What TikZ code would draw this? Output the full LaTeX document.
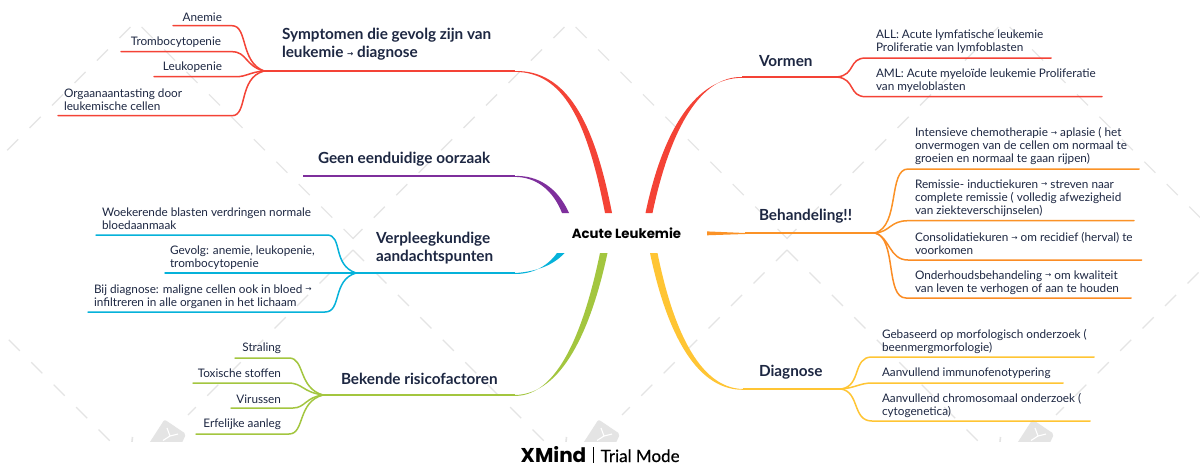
\documentclass[tikz,border=0pt]{standalone}
\usepackage{fontspec}
\setmainfont{Lato}
\newfontfamily\popp{Poppins}
\newfontfamily\djv{DejaVu Sans}
\newfontfamily\tmf[FakeBold=0.35]{Lato}
\definecolor{ink}{HTML}{1D2742}
\definecolor{wm}{HTML}{E4E4E4}
\definecolor{cred}{HTML}{F44336}
\definecolor{cpur}{HTML}{7E2F9C}
\definecolor{ccya}{HTML}{05B2DA}
\definecolor{cgre}{HTML}{A3C63F}
\definecolor{cyel}{HTML}{FFC534}
\definecolor{cora}{HTML}{FB9226}
\newcommand{\arr}{\raisebox{1.2pt}{\djv\fontsize{7.5}{7.5}\selectfont →}}
\tikzset{
 x=1pt,y=-1pt,
 kid/.style={line width=1.5pt,line cap=round},
 trunk/.style={line width=1.9pt},
 leaf/.style={inner sep=0pt,outer sep=0pt,text=ink,align=left,yshift=-0.9pt,font=\fontsize{11.75}{13.1}\selectfont},
 topic/.style={inner sep=0pt,outer sep=0pt,text=ink,align=left,yshift=-0.6pt,font=\fontsize{15.3}{18}\selectfont\bfseries},
 wmline/.style={draw=wm,line width=1.2pt,dash pattern=on 15.6pt off 16.15pt},
}
\newcommand{\armset}[2]{%
 \draw[wmline] (#1+5.6,#2+5) -- (#1+217.3,#2+216.7);
 \draw[wmline] (#1-5.6,#2+5) -- (#1-217.3,#2+216.7);}
\newcommand{\armlow}[1]{%
 \draw[wmline] (#1,250) -- (#1+192,442);
 \draw[wmline] (#1,250) -- (#1-165,415);}
\newcommand{\icon}[1]{%
 \begin{scope}[shift={(#1,0)}]
 \fill[wm,rounded corners=2pt] (-2.5,419.5) -- (19,434) -- (14,445) -- (-19,445) -- cycle;
 \draw[white,line width=1.1pt] (0,428) -- (3,436) -- (11,434);
 \draw[white,line width=1.1pt] (3,436) -- (-4,440.5);
 \draw[wm,line width=1.6pt] (-34.5,437) -- (-35,442);
 \end{scope}}
\begin{document}
\begin{tikzpicture}
\useasboundingbox (0,0) rectangle (1200,474);
\fill[white] (0,0) rectangle (1200,474);
% watermark
\begin{scope}
\clip (0,0) rectangle (1200,441);
\armset{136}{22}\armset{570}{22}\armset{1004}{22}
\armlow{-81}\armlow{353}\armlow{787}\armlow{1221}
\icon{167}\icon{601}\icon{1035}
\end{scope}
% centre
\node[inner sep=0pt,font=\popp\fontsize{13.3}{16}\selectfont\bfseries,text=black] (root) at (626.5,233) {Acute Leukemie};
% coordinates
\coordinate (f1) at (264,71); \coordinate (t1) at (515,71);
\coordinate (f2) at (837,77); \coordinate (t2) at (742,77);
\coordinate (t3) at (515,176); \coordinate (e3) at (303,176);
\coordinate (f4) at (875,233); \coordinate (t4) at (745,233);
\coordinate (f5) at (356,273); \coordinate (t5) at (515,273);
\coordinate (f6) at (841,389); \coordinate (t6) at (743,389);
\coordinate (f7) at (323,395); \coordinate (t7) at (515,395);
% main branches
\fill[cred] (612,213) .. controls (594,120) and (566,70.1) .. (t1) -- (515,71.9) .. controls (563,72) and (587,120) .. (605,213) -- cycle;
\draw[cred,trunk] (t1) -- (f1);
\fill[cred] (652.5,213) .. controls (671,125) and (702,76.2) .. (t2) -- (742,77.8) .. controls (698,78) and (664,125) .. (645.5,213) -- cycle;
\draw[cred,trunk] (t2) -- (f2);
\fill[cpur] (569,213) .. controls (558,188) and (538,175.1) .. (t3) -- (515,176.9) .. controls (536,177) and (553,190) .. (562,213) -- cycle;
\draw[cpur,trunk] (t3) -- (e3);
\fill[cora] (707,231.4) -- (t4) -- (745,234) -- (707,235.3) -- cycle;
\draw[cora,line width=1.6pt] (t4) -- (f4);
\fill[ccya] (564.5,253) .. controls (552,267) and (532,272.1) .. (t5) -- (515,274) .. controls (532,274) and (547,267) .. (557,253) -- cycle;
\draw[ccya,trunk] (t5) -- (f5);
\fill[cyel] (657.5,253) .. controls (672,325) and (698,388.2) .. (t6) -- (743,389.8) .. controls (693,390) and (665,325) .. (650,253) -- cycle;
\draw[cyel,trunk] (t6) -- (f6);
\fill[cgre] (607.5,253) .. controls (591,330) and (562,394.1) .. (t7) -- (515,395.9) .. controls (558,396) and (584,330) .. (600,253) -- cycle;
\draw[cgre,trunk] (t7) -- (f7);
% children: symptomen
\coordinate (a1) at (173,25.7); \coordinate (a2) at (121,51.7); \coordinate (a3) at (154,76.7); \coordinate (a4) at (58,115.7);
\draw[cred,kid] (a1) -- (232,25.7) .. controls (248,25.7) and (240,62) .. (f1);
\draw[cred,kid] (a2) -- (232,51.7) .. controls (247,51.7) and (245,66) .. (f1);
\draw[cred,kid] (a3) -- (236,76.7) .. controls (247,76.7) and (250,72) .. (f1);
\draw[cred,kid] (a4) -- (232,115.7) .. controls (248,115.7) and (238,78) .. (f1);
% vormen
\coordinate (b1) at (1051,58); \coordinate (b2) at (1102,96.7);
\draw[cred,kid] (f2) .. controls (856,75) and (848,58) .. (866,58) -- (b1);
\draw[cred,kid] (f2) .. controls (856,79) and (848,96.7) .. (866,96.7) -- (b2);
% verpleegkundige
\coordinate (c1) at (96,235); \coordinate (c2) at (165,273); \coordinate (c3) at (88,312);
\draw[ccya,kid] (c1) -- (327,235) .. controls (343,235) and (332,265) .. (f5);
\draw[ccya,kid] (c2) -- (f5);
\draw[ccya,kid] (c3) -- (325,312) .. controls (342,312) and (332,280) .. (f5);
% risicofactoren
\coordinate (g1) at (235,358); \coordinate (g2) at (193,383); \coordinate (g3) at (231,408); \coordinate (g4) at (196,434);
\draw[cgre,kid] (g1) -- (289,358) .. controls (305,358) and (298,388) .. (f7);
\draw[cgre,kid] (g2) -- (288,383) .. controls (303,383) and (302,392) .. (f7);
\draw[cgre,kid] (g3) -- (293,408) .. controls (305,408) and (306,397) .. (f7);
\draw[cgre,kid] (g4) -- (289,434) .. controls (305,434) and (297,402) .. (f7);
% behandeling
\coordinate (h1) at (1139,169); \coordinate (h2) at (1134,220.7); \coordinate (h3) at (1141.5,260); \coordinate (h4) at (1131,298);
\draw[cora,kid] (f4) .. controls (900,226) and (888,169) .. (908,169) -- (h1);
\draw[cora,kid] (f4) .. controls (890,232) and (890,220.7) .. (908,220.7) -- (h2);
\draw[cora!96!red,kid] (f4) .. controls (890,237) and (889,260) .. (908,260) -- (h3);
\draw[cora!96!red,kid] (f4) .. controls (897,238) and (885,298) .. (906,298) -- (h4);
% diagnose
\coordinate (d1) at (1094,357); \coordinate (d2) at (1063,383); \coordinate (d3) at (1090,421);
\draw[cyel,kid] (f6) .. controls (862,386) and (852,357) .. (872,357) -- (d1);
\draw[cyel,kid] (f6) .. controls (855,388) and (860,383) .. (872,383) -- (d2);
\draw[cyel,kid] (f6) .. controls (860,392) and (852,421) .. (872,421) -- (d3);
% topics
\node[topic,anchor=west] (n1) at (282,44) {Symptomen die gevolg zijn van\\leukemie \arr{} diagnose};
\node[topic,anchor=west] (n2) at (759,60) {Vormen};
\node[topic,anchor=west] (n3) at (318,158.5) {Geen eenduidige oorzaak};
\node[topic,anchor=west] (n4) at (759,216) {Behandeling!!};
\node[topic,anchor=west] (n5) at (376,247) {Verpleegkundige\\aandachtspunten};
\node[topic,anchor=west] (n6) at (759,372) {Diagnose};
\node[topic,anchor=west] (n7) at (341,378) {Bekende risicofactoren};
% leaves
\node[leaf,anchor=east] (l1) at (222,16) {Anemie};
\node[leaf,anchor=east] (l2) at (221,41) {Trombocytopenie};
\node[leaf,anchor=east] (l3) at (222,66) {Leukopenie};
\node[leaf,anchor=west] (l4) at (64,98.5) {Orgaanaantasting door\\leukemische cellen};
\node[leaf,anchor=west] (l5) at (876,40.5) {ALL: Acute lymfatische leukemie\\Proliferatie van lymfoblasten};
\node[leaf,anchor=west] (l6) at (876,79.5) {AML: Acute myeloïde leukemie Proliferatie\\van myeloblasten};
\node[leaf,anchor=west] (l7) at (915,145) {Intensieve chemotherapie \arr{} aplasie ( het\\onvermogen van de cellen om normaal te\\groeien en normaal te gaan rijpen)};
\node[leaf,anchor=west] (l8) at (915,197) {Remissie- inductiekuren \arr{} streven naar\\complete remissie ( volledig afwezigheid\\van ziekteverschijnselen)};
\node[leaf,anchor=west] (l9) at (915,242.5) {Consolidatiekuren \arr{} om recidief (herval) te\\voorkomen};
\node[leaf,anchor=west] (l10) at (915,281.5) {Onderhoudsbehandeling \arr{} om kwaliteit\\van leven te verhogen of aan te houden};
\node[leaf,anchor=west] (l11) at (102,217.5) {Woekerende blasten verdringen normale\\bloedaanmaak};
\node[leaf,anchor=west] (l12) at (170,256.5) {Gevolg: anemie, leukopenie,\\trombocytopenie};
\node[leaf,anchor=west] (l13) at (94,295.5) {Bij diagnose: maligne cellen ook in bloed \arr\\infiltreren in alle organen in het lichaam};
\node[leaf,anchor=east] (l14) at (281,347) {Straling};
\node[leaf,anchor=east] (l15) at (281,372) {Toxische stoffen};
\node[leaf,anchor=east] (l16) at (281,398) {Virussen};
\node[leaf,anchor=east] (l17) at (281,423) {Erfelijke aanleg};
\node[leaf,anchor=west] (l18) at (882,340.5) {Gebaseerd op morfologisch onderzoek (\\beenmergmorfologie)};
\node[leaf,anchor=west] (l19) at (882,372) {Aanvullend immunofenotypering};
\node[leaf,anchor=west] (l20) at (882,404.5) {Aanvullend chromosomaal onderzoek (\\cytogenetica)};
% logo
\node[inner sep=0pt,anchor=base west,font=\popp\fontsize{20}{20}\selectfont\bfseries,text=black] (xm) at (520.5,462) {XMind};
\node[inner sep=0pt,anchor=base west,font=\tmf\fontsize{17}{17}\selectfont,text=black] (tm) at (600.5,462) {Trial Mode};
\coordinate (s1) at (593.3,447); \coordinate (s2) at (593.3,463);
\draw[black,line width=0.9pt] (s1) -- (s2);
\end{tikzpicture}
\end{document}
